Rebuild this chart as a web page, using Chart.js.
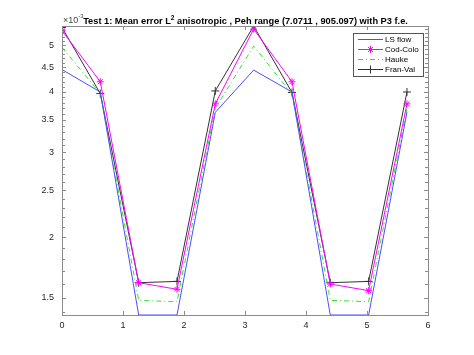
<!DOCTYPE html>
<html>
<head>
<meta charset="utf-8">
<script src="https://cdn.jsdelivr.net/npm/chart.js@4.4.0/dist/chart.umd.min.js"></script>
<style>
  html, body { margin: 0; padding: 0; background: #fff; }
  #wrap { width: 474px; height: 355px; }
</style>
</head>
<body>
<div id="wrap"><canvas id="chart1" width="474" height="355"></canvas></div>
<script>
// x positions (theta) and errors, in units of 1e-3
var xs = [0, 0.628, 1.257, 1.885, 2.513, 3.142, 3.770, 4.398, 5.027, 5.655];
var lsFlow  = [4.45, 4.00, 1.38, 1.38, 3.63, 4.44, 4.00, 1.38, 1.38, 3.63];
var codColo = [5.36, 4.20, 1.61, 1.56, 3.78, 5.40, 4.20, 1.60, 1.55, 3.78];
var hauke   = [4.95, 3.97, 1.48, 1.47, 3.70, 4.98, 3.96, 1.48, 1.47, 3.70];
var franVal = [5.44, 3.97, 1.61, 1.62, 4.02, 5.48, 3.99, 1.61, 1.62, 4.00];

var yLabels = [1.5, 2, 2.5, 3, 3.5, 4, 4.5, 5];
var xLabels = [0, 1, 2, 3, 4, 5, 6];
var yMin = 1.38, yMax = 5.48;

var titleA = 'Test 1: Mean error L';
var titleSup = '2';
var titleB = ' anisotropic , Peh range (7.0711 , 905.097) with P3 f.e.';

function pts(arr) {
    return xs.map(function (x, i) { return { x: x, y: arr[i] }; });
}

var fontFam = '"Liberation Sans", Arial, Helvetica, sans-serif';
var axisGray = '#8c8c8c';

// axes box, inward ticks, title, exponent and legend (matlab look)
var matlabAxes = {
    id: 'matlabAxes',
    afterDraw: function (chart) {
        var ctx = chart.ctx;
        var a = chart.chartArea;
        var xs_ = chart.scales.x, ys_ = chart.scales.y;
        ctx.save();
        ctx.strokeStyle = axisGray;
        ctx.lineWidth = 1;
        ctx.strokeRect(Math.round(a.left) + 0.5, Math.round(a.top) + 0.5,
            Math.round(a.right - a.left), Math.round(a.bottom - a.top));

        var tl = 4;
        ctx.beginPath();
        xLabels.forEach(function (v) {
            var px = Math.round(xs_.getPixelForValue(v)) + 0.5;
            ctx.moveTo(px, a.bottom); ctx.lineTo(px, a.bottom - tl);
            ctx.moveTo(px, a.top); ctx.lineTo(px, a.top + tl);
        });
        for (var k = 14; k <= 54; k++) {
            var v = k / 10;
            var py = Math.round(ys_.getPixelForValue(v)) + 0.5;
            var len = (k % 5 === 0) ? tl : 3;
            ctx.moveTo(a.left, py); ctx.lineTo(a.left + len, py);
            ctx.moveTo(a.right, py); ctx.lineTo(a.right - len, py);
        }
        ctx.stroke();

        // exponent above the y axis
        ctx.fillStyle = '#444';
        ctx.textBaseline = 'alphabetic';
        ctx.textAlign = 'left';
        ctx.font = '9px ' + fontFam;
        ctx.fillText('\u00d710', a.left + 1, a.top - 3);
        var w10 = ctx.measureText('\u00d710').width;
        ctx.font = '6px ' + fontFam;
        ctx.fillText('-3', a.left + 1 + w10, a.top - 8);

        // title
        var size = 11;
        var wTot;
        for (; size > 6; size -= 0.25) {
            ctx.font = 'bold ' + size + 'px ' + fontFam;
            var wa = ctx.measureText(titleA).width;
            var wb = ctx.measureText(titleB).width;
            ctx.font = 'bold ' + (size * 0.7) + 'px ' + fontFam;
            var ws = ctx.measureText(titleSup).width;
            wTot = wa + wb + ws;
            if (wTot <= 328) break;
        }
        var tx = 245.5 - wTot / 2;
        var ty = 24;
        ctx.fillStyle = '#000';
        ctx.font = 'bold ' + size + 'px ' + fontFam;
        ctx.fillText(titleA, tx, ty);
        tx += ctx.measureText(titleA).width;
        ctx.font = 'bold ' + (size * 0.7) + 'px ' + fontFam;
        ctx.fillText(titleSup, tx, ty - size * 0.45);
        tx += ctx.measureText(titleSup).width;
        ctx.font = 'bold ' + size + 'px ' + fontFam;
        ctx.fillText(titleB, tx, ty);

        // legend
        var lx = 353.5, ly = 33.5, lw = 70, lh = 43;
        ctx.fillStyle = '#fff';
        ctx.fillRect(lx, ly, lw, lh);
        ctx.strokeStyle = '#555';
        ctx.lineWidth = 1;
        ctx.strokeRect(lx, ly, lw, lh);
        ctx.font = '8px ' + fontFam;
        ctx.textBaseline = 'middle';
        chart.data.datasets.forEach(function (ds, i) {
            var yy = 39.5 + i * 10;
            ctx.save();
            ctx.strokeStyle = ds.borderColor;
            ctx.lineWidth = ds.borderWidth;
            ctx.setLineDash(ds.borderDash || []);
            ctx.beginPath();
            ctx.moveTo(358, yy); ctx.lineTo(383, yy);
            ctx.stroke();
            ctx.restore();
            if (ds.pointRadius > 0) {
                ctx.save();
                ctx.strokeStyle = ds.borderColor;
                ctx.fillStyle = ds.borderColor;
                ctx.lineWidth = 1;
                Chart.helpers.drawPoint(ctx, {
                    pointStyle: ds.pointStyle, radius: ds.pointRadius,
                    borderWidth: 1, rotation: 0
                }, 370.5, yy);
                ctx.restore();
            }
            ctx.fillStyle = '#000';
            ctx.fillText(ds.label, 385, yy);
        });
        ctx.restore();
    }
};

const ctx1 = document.getElementById('chart1');
const lineChart = new Chart(ctx1, {
    type: 'line',
    data: {
        datasets: [{
            label: 'LS flow',
            data: pts(lsFlow),
            borderColor: '#4d4dff',
            borderWidth: 1,
            pointRadius: 0
        }, {
            label: 'Cod-Colo',
            data: pts(codColo),
            borderColor: '#ff00ff',
            backgroundColor: '#ff00ff',
            borderWidth: 1,
            pointStyle: 'star',
            pointRadius: 3.5,
            pointBorderWidth: 1
        }, {
            label: 'Hauke',
            data: pts(hauke),
            borderColor: '#33e033',
            borderWidth: 1,
            borderDash: [5, 3, 1, 3],
            pointRadius: 0
        }, {
            label: 'Fran-Val',
            data: pts(franVal),
            borderColor: '#333333',
            backgroundColor: '#333333',
            borderWidth: 1,
            pointStyle: 'cross',
            pointRadius: 4,
            pointBorderWidth: 1
        }]
    },
    options: {
        responsive: false,
        animation: false,
        layout: { padding: { top: 26, right: 46, left: 0, bottom: 0 } },
        elements: { line: { tension: 0 } },
        plugins: {
            legend: { display: false },
            title: { display: false },
            tooltip: { enabled: false }
        },
        scales: {
            x: {
                type: 'linear',
                min: 0,
                max: 6,
                grid: { display: false, drawTicks: false },
                border: { display: false },
                afterBuildTicks: function (scale) {
                    scale.ticks = xLabels.map(function (v) { return { value: v }; });
                },
                afterFit: function (scale) { scale.height = 40; },
                ticks: {
                    padding: 5,
                    color: '#262626',
                    font: { size: 9, family: fontFam },
                    maxRotation: 0,
                    callback: function (v) { return String(v); }
                }
            },
            y: {
                type: 'logarithmic',
                min: yMin,
                max: yMax,
                grid: { display: false, drawTicks: false },
                border: { display: false },
                afterBuildTicks: function (scale) {
                    scale.ticks = yLabels.map(function (v) { return { value: v }; });
                },
                afterFit: function (scale) { scale.width = 62; },
                ticks: {
                    padding: 8,
                    color: '#262626',
                    font: { size: 9, family: fontFam },
                    callback: function (v) { return String(v); }
                }
            }
        }
    },
    plugins: [matlabAxes]
});
</script>
</body>
</html>
